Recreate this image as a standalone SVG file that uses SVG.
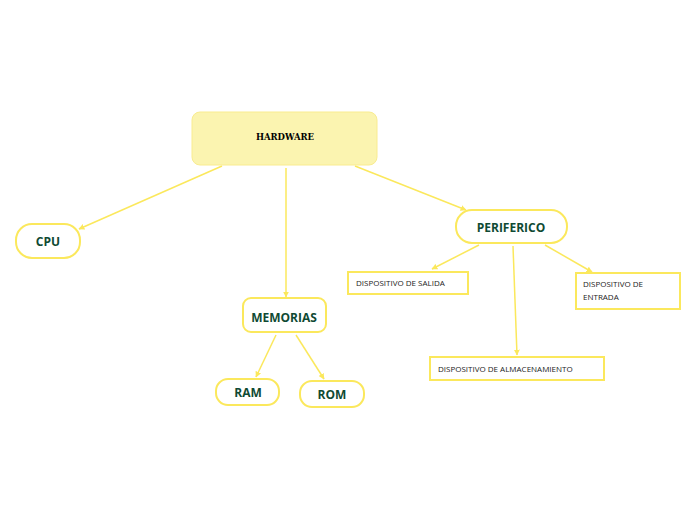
<svg xmlns="http://www.w3.org/2000/svg" width="696" height="520" viewBox="0 0 696 520">
<style>
.n{fill:#fff;stroke:#fbe85c;stroke-width:2}
.t{font-family:"Open Sans","Noto Sans",sans-serif;font-weight:bold;font-size:12px;fill:#0f4a33;text-anchor:middle}
.s{font-family:"Open Sans","Noto Sans",sans-serif;font-size:8px;fill:#222}
.c line{stroke:#fbe85c;stroke-width:1.5;marker-end:url(#a)}
</style>
<defs><marker id="a" viewBox="0 0 10 10" refX="9" refY="5" markerWidth="6" markerHeight="6" orient="auto" markerUnits="userSpaceOnUse"><path d="M0,0L10,5L0,10z" fill="#fbe85c"/></marker></defs>
<rect width="696" height="520" fill="#fff"/>
<g class="c">
<line x1="222" y1="166" x2="79" y2="229"/>
<line x1="286" y1="168" x2="286" y2="297"/>
<line x1="355" y1="166" x2="466" y2="210"/>
<line x1="479" y1="245" x2="432" y2="269"/>
<line x1="513" y1="246" x2="517" y2="355"/>
<line x1="545" y1="245" x2="592" y2="272"/>
<line x1="276" y1="335" x2="256" y2="377"/>
<line x1="296" y1="335" x2="324" y2="379"/>
</g>
<g id="hardware"><rect x="192" y="112" width="185" height="53" rx="8" fill="#fbf4b0" stroke="#f9ec90" stroke-width="1"/><text x="285" y="140" text-anchor="middle" font-family="'DejaVu Serif',serif" font-weight="bold" font-size="8.5" fill="#000">HARDWARE</text></g>
<g id="cpu"><rect class="n" x="16" y="224" width="64" height="34" rx="16"/><text class="t" x="48" y="246">CPU</text></g>
<g id="memorias"><rect class="n" x="243" y="298" width="83" height="34" rx="8"/><text class="t" x="284" y="322">MEMORIAS</text></g>
<g id="ram"><rect class="n" x="216" y="379" width="63" height="26" rx="12"/><text class="t" x="248" y="397">RAM</text></g>
<g id="rom"><rect class="n" x="300" y="381" width="64" height="26" rx="12"/><text class="t" x="332" y="399">ROM</text></g>
<g id="periferico"><rect class="n" x="456" y="210" width="111" height="33" rx="16"/><text class="t" x="511" y="232">PERIFERICO</text></g>
<g id="salida"><rect class="n" x="348" y="272" width="120" height="22"/><text class="s" x="356" y="286">DISPOSITIVO DE SALIDA</text></g>
<g id="entrada"><rect class="n" x="576" y="273" width="104" height="36"/><text class="s" x="583" y="287">DISPOSITIVO DE</text><text class="s" x="583" y="300">ENTRADA</text></g>
<g id="almacenamiento"><rect class="n" x="430" y="357" width="174" height="23"/><text class="s" x="438" y="372">DISPOSITIVO DE ALMACENAMIENTO</text></g>
</svg>
